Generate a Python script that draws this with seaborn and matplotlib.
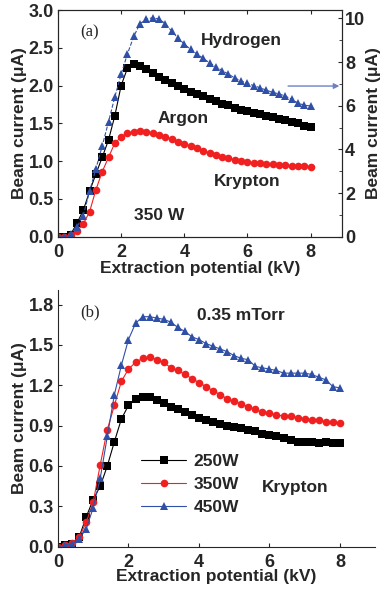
import numpy as np
import pandas as pd
import matplotlib
matplotlib.use("Agg")
import matplotlib.pyplot as plt
import seaborn as sns

# extraction potential (kV), same grid for all curves
volts = [round(0.2 * i, 1) for i in range(41)]

# panel (a) 350 W, left axis
argon = [0.0, 0.0, 0.03, 0.18, 0.35, 0.6, 0.83, 1.05, 1.28, 1.6, 2.0, 2.23, 2.28, 2.26, 2.22,
         2.17, 2.12, 2.07, 2.03, 2.0, 1.96, 1.92, 1.89, 1.86, 1.82, 1.79, 1.76, 1.74, 1.71,
         1.68, 1.66, 1.64, 1.62, 1.6, 1.58, 1.56, 1.54, 1.52, 1.5, 1.47, 1.45]
krypton = [0.0, 0.0, 0.02, 0.07, 0.17, 0.33, 0.62, 0.86, 1.05, 1.24, 1.32, 1.37, 1.39, 1.40,
           1.39, 1.37, 1.35, 1.32, 1.29, 1.26, 1.23, 1.2, 1.17, 1.14, 1.11, 1.08, 1.06, 1.04,
           1.02, 1.0, 0.99, 0.98, 0.97, 0.96, 0.96, 0.95, 0.95, 0.94, 0.93, 0.93, 0.92]
# hydrogen on the right axis
hydrogen = [0.0, 0.0, 0.14, 0.45, 0.97, 2.08, 3.11, 4.15, 5.26, 6.4, 7.44, 8.37, 9.17, 9.76,
            9.96, 10.03, 9.96, 9.76, 9.41, 9.1, 8.82, 8.58, 8.37, 8.17, 7.96, 7.79, 7.61, 7.44,
            7.27, 7.13, 7.02, 6.92, 6.82, 6.71, 6.61, 6.54, 6.44, 6.3, 6.12, 6.02, 5.99]

# panel (b) krypton, 0.35 mTorr
kr250 = [0.0, 0.01, 0.02, 0.07, 0.22, 0.35, 0.45, 0.6, 0.78, 0.95, 1.05, 1.1, 1.11, 1.11, 1.09,
         1.07, 1.04, 1.02, 1.0, 0.98, 0.96, 0.94, 0.93, 0.91, 0.9, 0.89, 0.88, 0.87, 0.86, 0.84,
         0.83, 0.82, 0.81, 0.79, 0.78, 0.78, 0.78, 0.77, 0.78, 0.77, 0.77]
kr350 = [0.0, 0.01, 0.03, 0.07, 0.18, 0.33, 0.61, 0.87, 1.05, 1.23, 1.32, 1.37, 1.4, 1.41, 1.39,
         1.37, 1.33, 1.31, 1.28, 1.25, 1.22, 1.19, 1.16, 1.13, 1.1, 1.08, 1.06, 1.04, 1.02, 1.0,
         0.99, 0.98, 0.97, 0.97, 0.96, 0.95, 0.94, 0.94, 0.93, 0.93, 0.92]
kr450 = [0.0, 0.01, 0.02, 0.06, 0.13, 0.29, 0.51, 0.82, 1.13, 1.35, 1.54, 1.66, 1.71, 1.71, 1.70,
         1.69, 1.67, 1.63, 1.60, 1.56, 1.54, 1.51, 1.49, 1.47, 1.45, 1.42, 1.40, 1.39, 1.34, 1.33,
         1.32, 1.31, 1.29, 1.29, 1.29, 1.29, 1.28, 1.26, 1.24, 1.19, 1.18]

sns.set_style("ticks")
plt.rcParams['font.family'] = ['Liberation Sans', 'DejaVu Sans']
plt.rcParams['font.weight'] = 'bold'
plt.rcParams['axes.labelweight'] = 'bold'
plt.rcParams['xtick.direction'] = 'in'
plt.rcParams['ytick.direction'] = 'in'

BLACK = '#000000'
RED = '#f02020'
BLUE = '#3050a8'
TICK_FS = 13
LAB_FS = 12.5
TXT_FS = 12.5

fig = plt.figure(figsize=(3.84, 5.89), dpi=100)
ax1 = fig.add_axes([0.151, 0.598, 0.740, 0.385])
ax2 = fig.add_axes([0.151, 0.072, 0.826, 0.436])

df_a = pd.DataFrame({'V': volts, 'Ar': argon, 'Kr': krypton, 'H': hydrogen})

sns.lineplot(data=df_a, x='V', y='Ar', ax=ax1, color=BLACK, marker='s', markersize=5.5,
             markeredgewidth=0, lw=0.8)
sns.lineplot(data=df_a, x='V', y='Kr', ax=ax1, color=RED, marker='o', markersize=5.5,
             markeredgewidth=0, lw=0.8)
ax1r = ax1.twinx()
sns.lineplot(data=df_a, x='V', y='H', ax=ax1r, color=BLUE, marker='^', markersize=6,
             markeredgewidth=0, lw=0.8, linestyle='--')

ax1.set_xlim(0, 9)
ax1.set_ylim(0, 3.0)
ax1r.set_ylim(0, 10.38)
ax1.set_xticks([0, 2, 4, 6, 8])
ax1.set_yticks(np.arange(0, 3.01, 0.5))
ax1.set_yticklabels([f"{v:.1f}" for v in np.arange(0, 3.01, 0.5)])
ax1r.set_yticks([0, 2, 4, 6, 8, 10])
ax1r.set_yticks([1, 3, 5, 7, 9], minor=True)
ax1.tick_params(top=True, labelsize=TICK_FS, length=3)
ax1.tick_params(axis='x', pad=5)
ax1.tick_params(axis='y', pad=3)
ax1r.tick_params(labelsize=TICK_FS, length=3, pad=2)
ax1r.tick_params(which='minor', length=2)
ax1.set_xlabel('Extraction potential (kV)', fontsize=LAB_FS, labelpad=0)
ax1.set_ylabel('Beam current (μA)', fontsize=LAB_FS, labelpad=1)
ax1r.set_ylabel('Beam current (μA)', fontsize=LAB_FS, labelpad=1)

ax1.text(0.7, 2.71, '(a)', family='Liberation Serif', fontsize=12, fontweight='normal',
         va='center')
ax1.text(5.8, 2.6, 'Hydrogen', fontsize=TXT_FS, ha='center', va='center')
ax1.text(3.95, 1.57, 'Argon', fontsize=TXT_FS, ha='center', va='center')
ax1.text(6.0, 0.73, 'Krypton', fontsize=TXT_FS, ha='center', va='center')
ax1.text(3.2, 0.28, '350 W', fontsize=TXT_FS, ha='center', va='center')
ax1r.annotate('', xy=(9.0, 6.9), xytext=(7.2, 6.9),
              arrowprops=dict(arrowstyle='-|>', color='#7080c0', lw=1.0, mutation_scale=8))

df_b = pd.DataFrame({'V': volts, '250W': kr250, '350W': kr350, '450W': kr450})
sns.lineplot(data=df_b, x='V', y='250W', ax=ax2, color=BLACK, marker='s', markersize=5.5,
             markeredgewidth=0, lw=0.8, label='250W')
sns.lineplot(data=df_b, x='V', y='350W', ax=ax2, color=RED, marker='o', markersize=5.5,
             markeredgewidth=0, lw=0.8, label='350W')
sns.lineplot(data=df_b, x='V', y='450W', ax=ax2, color=BLUE, marker='^', markersize=6,
             markeredgewidth=0, lw=0.8, label='450W')

ax2.set_xlim(0, 9)
ax2.set_ylim(0, 1.91)
ax2.set_xticks([0, 2, 4, 6, 8])
ax2.set_yticks(np.arange(0, 1.81, 0.3))
ax2.set_yticklabels([f"{v:.1f}" for v in np.arange(0, 1.81, 0.3)])
ax2.tick_params(labelsize=TICK_FS, length=3)
ax2.tick_params(axis='x', pad=5)
ax2.tick_params(axis='y', pad=3)
sns.despine(ax=ax2)
ax2.set_xlabel('Extraction potential (kV)', fontsize=LAB_FS, labelpad=-1)
ax2.set_ylabel('Beam current (μA)', fontsize=LAB_FS, labelpad=1)
ax2.legend(loc='lower left', bbox_to_anchor=(0.235, 0.09), frameon=False, fontsize=TXT_FS,
           handlelength=2.6, handletextpad=0.4, labelspacing=0.45, borderpad=0)
ax2.text(0.62, 1.74, '(b)', family='Liberation Serif', fontsize=12, fontweight='normal',
         va='center')
ax2.text(5.2, 1.72, '0.35 mTorr', fontsize=TXT_FS, ha='center', va='center')
ax2.text(6.72, 0.44, 'Krypton', fontsize=TXT_FS, ha='center', va='center')

fig.savefig('out.png', dpi=100)
